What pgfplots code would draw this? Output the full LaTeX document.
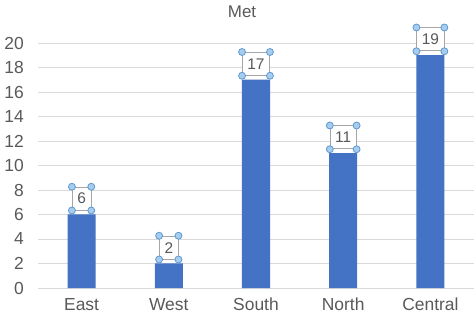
\documentclass[border=0pt]{standalone}
\usepackage{pgfplots}
\pgfplotsset{compat=1.18}
\usepackage{fontspec}
\setmainfont{Liberation Sans}
\definecolor{barblue}{HTML}{4472C4}
\definecolor{txtgray}{HTML}{595959}
\definecolor{gridgray}{HTML}{D9D9D9}
\definecolor{hborder}{HTML}{5B9BD5}
\definecolor{hfill}{HTML}{A9CBEC}
\definecolor{boxgray}{HTML}{A6A6A6}
\tikzset{handle/.style={circle, draw=hborder, fill=hfill, line width=0.8bp, inner sep=0pt, minimum size=7bp}}
\begin{document}
\begin{tikzpicture}
\useasboundingbox (-38bp,-39bp) rectangle (436bp,288bp);
\begin{axis}[
  at={(0,0)}, anchor=south west,
  scale only axis, width=436bp, height=245bp,
  xmin=-0.5, xmax=4.5, ymin=0, ymax=20,
  ytick={0,2,...,20},
  xtick={0,1,2,3,4},
  xticklabels={East,West,South,North,Central},
  /pgf/number format/assume math mode=true,
  ymajorgrids, grid style={gridgray, line width=0.75bp},
  axis x line*=bottom, axis y line*=left,
  y axis line style={draw=none},
  x axis line style={gridgray, line width=0.75bp, -},
  major tick length=0pt,
  tick label style={font=\fontsize{17.5}{20}\selectfont, text=txtgray},
  yticklabel style={anchor=east, inner sep=0pt, xshift=-14bp},
  xticklabel style={anchor=north, inner sep=0pt, yshift=-10bp},
  title={Met},
  title style={at={(0.468,1)}, anchor=center, yshift=25bp, font=\fontsize{17}{20}\selectfont, text=txtgray},
  ybar, bar width=28bp,
  clip=false,
  nodes near coords,
  nodes near coords style={anchor=south, font=\fontsize{15.5}{18}\selectfont, text=txtgray,
    draw=boxgray, line width=0.75bp, fill=white, inner xsep=5bp, inner ysep=0pt,
    minimum height=23bp, yshift=4bp, name=nnc,
    append after command={(nnc.north west) node[handle]{} (nnc.north east) node[handle]{} (nnc.south west) node[handle]{} (nnc.south east) node[handle]{}}},
]
\addplot[fill=barblue, draw=none] coordinates {(0,6) (1,2) (2,17) (3,11) (4,19)};
\end{axis}
\end{tikzpicture}
\end{document}
